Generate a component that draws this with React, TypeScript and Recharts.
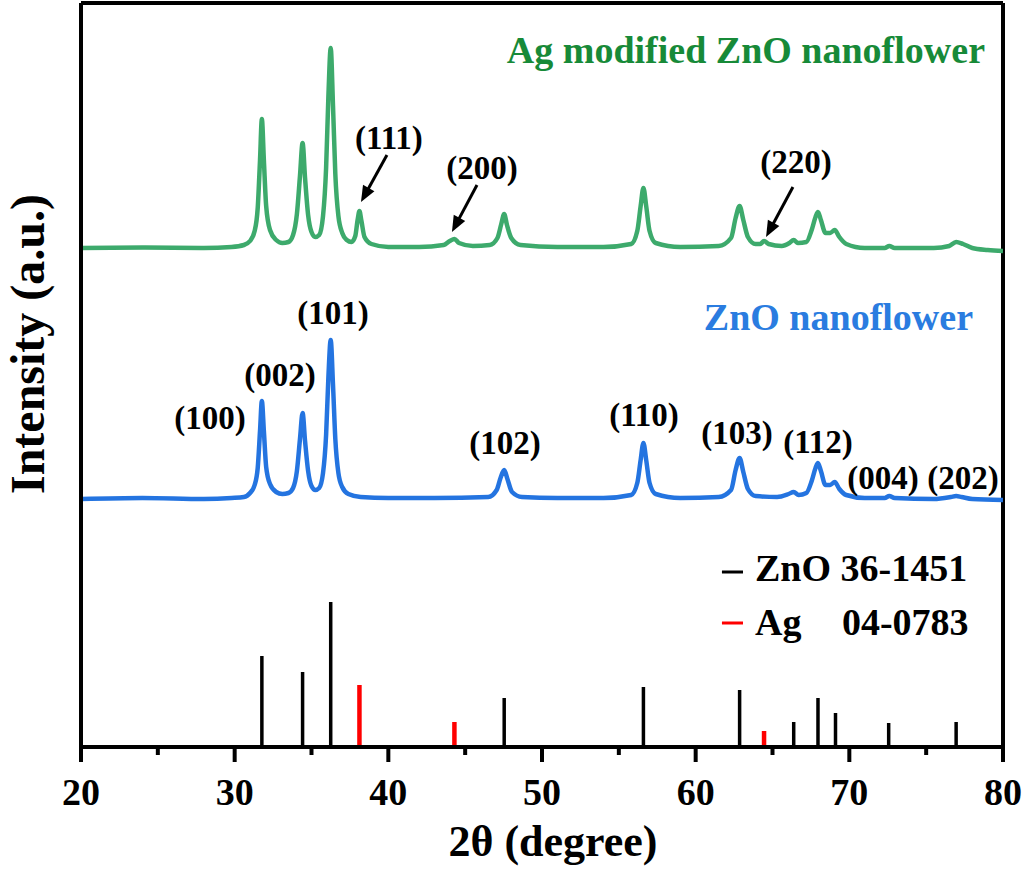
import React from "react";
import {
  ComposedChart,
  Line,
  XAxis,
  YAxis,
  ReferenceLine,
  ReferenceDot,
  Label,
} from "recharts";

const SERIF = '"Liberation Serif", "Times New Roman", Times, serif';
const TXT: React.CSSProperties = { fontFamily: SERIF, fontWeight: 700 };

// 2θ (degree) and intensity above each pattern's own baseline (a.u.)
const agZnoTheta = [
  20, 24, 28, 29.8, 30.6, 31.0, 31.3, 31.5, 31.65, 31.77, 31.9, 32.05, 32.3, 32.7, 33.1, 33.5, 33.8,
  34.05, 34.25, 34.42, 34.58, 34.78, 35.0, 35.25, 35.5, 35.75, 35.95, 36.1, 36.25, 36.4, 36.55, 36.75,
  37.0, 37.3, 37.6, 37.85, 38.0, 38.12, 38.25, 38.45, 38.9, 40, 42, 43.6, 44.0, 44.3, 44.6, 45.5, 46.6,
  47.1, 47.35, 47.54, 47.72, 48.0, 48.6, 51, 54, 55.8, 56.2, 56.42, 56.6, 56.78, 57.0, 57.4, 59, 61.5,
  62.3, 62.6, 62.86, 63.1, 63.4, 63.9, 64.2, 64.45, 64.75, 65.6, 66.1, 66.38, 66.65, 67.2, 67.55, 67.8,
  67.96, 68.15, 68.45, 68.75, 69.05, 69.35, 69.8, 71.0, 72.3, 72.6, 72.95, 75.5, 76.5, 76.95, 77.4, 78.0,
  79.0, 80,
];
const agZnoIntensity = [
  0, 0.5, 0, 1, 3, 7, 17, 40, 88, 129, 88, 42, 18, 8, 5, 6, 13,
  34, 72, 105, 70, 33, 16, 11, 13, 32, 80, 152, 200, 142, 74, 32,
  15, 8, 6, 12, 28, 37, 27, 11, 4, 1, 1, 3, 7, 9, 5, 2, 3,
  10, 24, 34, 23, 10, 3, 1, 1, 4, 17, 42, 60, 42, 17, 5, 1, 2,
  10, 30, 42, 28, 11, 4, 4, 7, 4, 2, 5, 8, 5, 6, 18, 31,
  36, 28, 15, 15, 18, 11, 4, 0, 0, 2, 0, 0, 2, 6, 4, 0,
  -2, -3,
];

const znoTheta = [
  20, 24, 28, 29.8, 30.6, 31.0, 31.3, 31.5, 31.65, 31.77, 31.9, 32.05, 32.3, 32.7, 33.1, 33.5, 33.8,
  34.05, 34.25, 34.42, 34.58, 34.78, 35.0, 35.25, 35.5, 35.75, 35.95, 36.1, 36.25, 36.4, 36.55, 36.75,
  37.0, 37.4, 38.2, 40, 43, 46.5, 47.05, 47.3, 47.54, 47.75, 48.05, 48.7, 51, 54, 55.8, 56.2, 56.42,
  56.6, 56.78, 57.0, 57.4, 59, 61.5, 62.3, 62.6, 62.86, 63.1, 63.4, 63.9, 65.3, 66.05, 66.38, 66.7,
  67.2, 67.55, 67.8, 67.96, 68.15, 68.45, 68.75, 69.05, 69.35, 69.8, 71, 72.3, 72.6, 72.95, 75.5, 76.6,
  76.95, 77.3, 78, 80,
];
const znoIntensity = [
  0, 1, 0, 1, 2, 6, 14, 31, 68, 98, 68, 32, 15, 7, 5, 6, 11,
  28, 60, 86, 58, 28, 13, 9, 11, 26, 64, 122, 159, 114, 60, 26,
  12, 5, 2, 1, 1, 2, 9, 21, 29, 20, 7, 2, 1, 1, 4, 16, 39,
  56, 39, 16, 5, 1, 2, 9, 29, 41, 27, 10, 3, 2, 5, 7, 4,
  6, 18, 31, 36, 28, 14, 14, 17, 10, 4, 1, 1, 3, 1, 0, 2,
  3, 2, 0, -1,
];

// standard card reflections (stick patterns)
const znoCardTheta = [31.77, 34.42, 36.25, 47.54, 56.6, 62.86, 66.38, 67.96, 69.1, 72.56, 76.95];
const znoCardIntensity = [91, 75, 145, 49, 60, 57, 25, 49, 34, 24, 25];
const agCardTheta = [38.12, 44.3, 64.45];
const agCardIntensity = [62, 25, 16];

// vertical offsets of the stacked patterns
const AG_ZNO_OFFSET = 499;
const ZNO_OFFSET = 248;

const xTicks = [20, 25, 30, 35, 40, 45, 50, 55, 60, 65, 70, 75, 80];

// Miller index labels: text, 2θ, height
const hklText = ["(100)", "(002)", "(101)", "(102)", "(110)", "(103)", "(112)", "(004)", "(202)"];
const hklTheta = [28.39, 32.95, 36.4, 47.59, 56.64, 62.69, 67.96, 72.19, 77.4];
const hklHeight = [329, 372, 434, 304, 332, 314, 305, 269, 269];

const agHklText = ["(111)", "(200)", "(220)"];
const agHklTheta = [40.04, 46.09, 66.53];
const agHklHeight = [609, 579, 585];
// arrows: tail and tip
const arrowFrom = [[39.91, 592], [45.77, 562], [66.33, 560]];
const arrowTo = [[38.22, 545], [44.14, 515], [64.58, 510]];

const agZnoData = agZnoTheta.map((t, i) => ({ t, v: agZnoIntensity[i] + AG_ZNO_OFFSET }));
const znoData = znoTheta.map((t, i) => ({ t, v: znoIntensity[i] + ZNO_OFFSET }));

const GREEN = "#3daa6c";
const GREEN_TEXT = "#178a38";
const BLUE = "#2474e0";
const BLUE_TEXT = "#2a7ce0";

function XTick(props: any) {
  const { x, y, payload } = props;
  const major = payload.value % 10 === 0;
  const top = y - 15;
  return (
    <g>
      <line x1={x} x2={x} y1={top} y2={top + (major ? 15 : 8)} stroke="#000" strokeWidth={4} />
      {major && (
        <text x={x} y={y + 43} textAnchor="middle" style={{ ...TXT, fontSize: 38 }} fill="#000">
          {payload.value}
        </text>
      )}
    </g>
  );
}

function Arrow(props: any) {
  const { x1, y1, x2, y2 } = props;
  const dx = x2 - x1;
  const dy = y2 - y1;
  const len = Math.hypot(dx, dy) || 1;
  const ux = dx / len;
  const uy = dy / len;
  const head = 16;
  const half = 6.5;
  const bx = x2 - ux * head;
  const by = y2 - uy * head;
  return (
    <g>
      <line x1={x1} y1={y1} x2={bx + ux * 2} y2={by + uy * 2} stroke="#000" strokeWidth={3} />
      <polygon
        points={`${x2},${y2} ${bx - uy * half},${by + ux * half} ${bx + uy * half},${by - ux * half}`}
        fill="#000"
      />
    </g>
  );
}

const textShape = (text: string, size: number, fill: string, anchor: "start" | "middle" | "end") =>
  (p: any) => (
    <text x={p.cx} y={p.cy} dy="0.34em" textAnchor={anchor} style={{ ...TXT, fontSize: size }} fill={fill}>
      {text}
    </text>
  );

export default function App() {
  return (
    <div style={{ position: "absolute", left: 0, top: 0, width: 1025, height: 873, background: "#fff", fontFamily: SERIF }}>
      <ComposedChart width={1025} height={873} margin={{ top: 3, right: 22, bottom: 0, left: 0 }}>
        <XAxis
          type="number"
          dataKey="t"
          domain={[20, 80]}
          allowDataOverflow
          ticks={xTicks}
          interval={0}
          height={126}
          tickSize={15}
          tickMargin={0}
          tickLine={false}
          tick={<XTick />}
          axisLine={{ stroke: "#000", strokeWidth: 4 }}
        >
          <Label
            content={(p: any) => {
              const vb = p.viewBox || { x: 81, y: 747, width: 922 };
              return (
                <text x={vb.x + vb.width / 2 + 11} y={vb.y + 109} textAnchor="middle" style={{ ...TXT, fontSize: 44 }} fill="#000">
                  2θ (degree)
                </text>
              );
            }}
          />
        </XAxis>
        <YAxis
          type="number"
          domain={[0, 744]}
          allowDataOverflow
          width={81}
          tick={false}
          tickLine={false}
          axisLine={{ stroke: "#000", strokeWidth: 4 }}
        >
          <Label
            content={(p: any) => {
              const vb = p.viewBox || { x: 0, y: 3 };
              const cx = vb.x + 28;
              const cy = vb.y + 341;
              return (
                <text
                  x={cx}
                  y={cy}
                  dy="0.34em"
                  transform={`rotate(-90 ${cx} ${cy})`}
                  textAnchor="middle"
                  style={{ ...TXT, fontSize: 48 }}
                  fill="#000"
                >
                  Intensity (a.u.)
                </text>
              );
            }}
          />
        </YAxis>

        {/* frame: top and right */}
        <ReferenceLine y={744} stroke="#000" strokeWidth={4} ifOverflow="visible" />
        <ReferenceLine x={80} stroke="#000" strokeWidth={4} ifOverflow="visible" />

        {/* reference card sticks */}
        {znoCardTheta.map((t, i) => (
          <Line
            key={`zno-${t}`}
            data={[{ t, v: 0 }, { t, v: znoCardIntensity[i] }]}
            dataKey="v"
            type="linear"
            stroke="#000"
            strokeWidth={3.5}
            dot={false}
            activeDot={false}
            isAnimationActive={false}
          />
        ))}
        {agCardTheta.map((t, i) => (
          <Line
            key={`ag-${t}`}
            data={[{ t, v: 0 }, { t, v: agCardIntensity[i] }]}
            dataKey="v"
            type="linear"
            stroke="#ff0000"
            strokeWidth={4.5}
            dot={false}
            activeDot={false}
            isAnimationActive={false}
          />
        ))}

        {/* measured patterns */}
        <Line
          data={znoData}
          dataKey="v"
          type="monotone"
          stroke={BLUE}
          strokeWidth={4.5}
          dot={false}
          activeDot={false}
          isAnimationActive={false}
        />
        <Line
          data={agZnoData}
          dataKey="v"
          type="monotone"
          stroke={GREEN}
          strokeWidth={4.5}
          dot={false}
          activeDot={false}
          isAnimationActive={false}
        />

        {/* pattern titles */}
        <ReferenceDot x={78.83} y={697} r={0} shape={textShape("Ag modified ZnO nanoflower", 38, GREEN_TEXT, "end")} />
        <ReferenceDot x={78.05} y={430} r={0} shape={textShape("ZnO nanoflower", 38, BLUE_TEXT, "end")} />

        {/* Miller indices */}
        {hklText.map((s, i) => (
          <ReferenceDot key={`hkl-${s}`} x={hklTheta[i]} y={hklHeight[i]} r={0} shape={textShape(s, 33, "#000", "middle")} />
        ))}
        {agHklText.map((s, i) => (
          <ReferenceDot key={`aghkl-${s}`} x={agHklTheta[i]} y={agHklHeight[i]} r={0} shape={textShape(s, 33, "#000", "middle")} />
        ))}
        {arrowFrom.map((a, i) => (
          <ReferenceLine
            key={`arrow-${i}`}
            segment={[{ x: a[0], y: a[1] }, { x: arrowTo[i][0], y: arrowTo[i][1] }]}
            shape={<Arrow />}
            ifOverflow="visible"
          />
        ))}

        {/* legend */}
        <ReferenceLine segment={[{ x: 61.71, y: 175 }, { x: 63.08, y: 175 }]} stroke="#000" strokeWidth={3} />
        <ReferenceDot x={63.86} y={179} r={0} shape={textShape("ZnO 36-1451", 38, "#000", "start")} />
        <ReferenceLine segment={[{ x: 61.71, y: 124 }, { x: 63.08, y: 124 }]} stroke="#ff0000" strokeWidth={3} />
        <ReferenceDot x={63.86} y={125} r={0} shape={textShape("Ag", 38, "#000", "start")} />
        <ReferenceDot x={69.52} y={125} r={0} shape={textShape("04-0783", 38, "#000", "start")} />
      </ComposedChart>
    </div>
  );
}
